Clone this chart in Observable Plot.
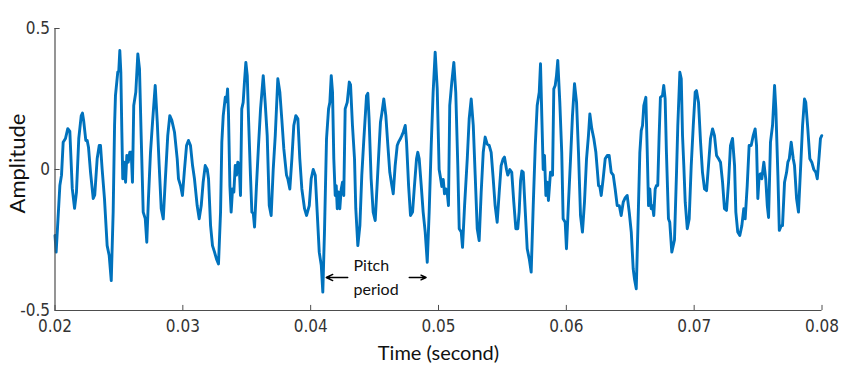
<!DOCTYPE html>
<html><head><meta charset="utf-8">
<script src="https://cdn.jsdelivr.net/npm/d3@7"></script>
<script src="https://cdn.jsdelivr.net/npm/@observablehq/plot@0.6"></script>
<style>body{margin:0;background:#fff}</style>
</head><body><div id="chart"></div>
<script>
// Waveform samples: time in milliseconds and amplitude
const timeMs = [
20.00,20.09,20.38,20.51,20.64,20.82,21.00,21.16,21.35,21.53,21.68,21.86,22.05,22.15,22.25,22.41,22.52,22.62,22.78,22.99,23.11,23.30,23.46,23.56,23.69,23.87,24.08,24.24,24.40,24.55,24.66,24.73,24.91,24.99,25.07,25.15,25.23,25.30,25.41,25.52,25.62,25.73,25.85,
25.96,26.06,26.16,26.32,26.48,26.61,26.74,26.90,27.06,27.18,27.31,27.47,27.63,27.84,28.00,28.15,28.31,28.47,28.62,28.82,28.98,29.14,29.35,29.56,29.66,29.82,29.97,30.13,30.29,30.44,30.60,30.76,30.91,31.12,31.28,31.44,31.59,31.75,31.91,32.01,
32.17,32.32,32.48,32.63,32.79,32.95,33.05,33.16,33.32,33.42,33.50,33.57,33.68,33.78,33.89,33.99,34.10,34.20,34.30,34.41,34.51,34.61,34.72,34.82,34.93,35.04,35.14,35.29,35.40,35.51,35.61,35.76,35.92,36.08,36.29,36.44,36.60,36.76,36.91,37.07,37.23,37.43,37.59,37.74,37.90,
38.11,38.21,38.37,38.53,38.68,38.84,39.00,39.15,39.31,39.52,39.68,39.89,40.04,40.20,40.36,40.51,40.67,40.83,40.95,41.08,41.24,41.40,41.50,41.61,41.71,41.81,41.92,42.00,42.08,42.18,42.28,42.39,42.49,42.59,42.70,42.86,43.02,43.12,43.27,43.43,43.53,43.69,43.85,44.00,
44.15,44.37,44.47,44.57,44.73,44.89,45.05,45.21,45.36,45.46,45.57,45.72,45.88,46.04,46.19,46.35,46.46,46.61,46.77,46.87,47.03,47.13,47.24,47.40,47.50,47.66,47.81,47.97,48.12,48.28,48.38,48.49,48.65,48.80,48.96,49.12,49.27,49.43,49.58,49.74,49.90,50.05,
50.16,50.26,50.37,50.47,50.57,50.68,50.78,50.88,51.04,51.20,51.35,51.51,51.62,51.78,51.88,52.04,52.25,52.40,52.56,52.72,52.87,53.03,53.18,53.34,53.50,53.65,53.81,53.97,54.12,54.28,54.43,54.59,54.75,54.90,55.06,55.16,55.32,55.42,55.58,55.73,55.89,56.05,56.20,
56.31,56.42,56.52,56.63,56.79,56.94,57.10,57.25,57.41,57.57,57.72,57.88,57.98,58.08,58.19,58.29,58.40,58.50,58.60,58.76,58.92,59.02,59.13,59.23,59.33,59.49,59.64,59.75,59.91,60.01,60.17,60.33,60.48,60.64,60.80,60.95,61.11,61.26,61.42,61.58,61.73,61.84,61.99,62.15,62.31,
62.42,62.52,62.62,62.73,62.88,63.04,63.20,63.35,63.51,63.67,63.82,63.98,64.14,64.29,64.45,64.61,64.76,64.92,65.08,65.23,65.33,65.47,65.59,65.75,65.86,65.96,66.06,66.22,66.33,66.43,66.53,66.64,66.74,66.84,66.95,67.05,67.15,67.26,67.36,67.52,67.62,67.73,67.83,67.99,68.09,68.25,
68.46,68.62,68.72,68.88,68.99,69.09,69.19,69.30,69.46,69.61,69.77,69.93,70.08,70.18,70.34,70.50,70.65,70.81,70.97,71.12,71.28,71.44,71.59,71.75,71.91,72.06,72.22,72.37,72.53,72.69,72.84,73.00,73.16,73.26,73.41,73.57,73.73,73.88,73.99,74.15,74.30,74.46,74.62,74.77,
74.88,74.98,75.09,75.19,75.29,75.45,75.60,75.72,75.82,75.97,76.13,76.29,76.39,76.55,76.66,76.81,76.91,77.07,77.23,77.33,77.44,77.59,77.75,77.85,78.01,78.16,78.32,78.48,78.63,78.73,78.89,79.05,79.20,79.36,79.52,79.63,79.78,79.88,79.98
];
const amplitude = [
-0.234,-0.293,-0.057,-0.02,0.097,0.11,0.145,0.135,-0.067,-0.138,-0.08,0.11,0.19,0.2,0.17,0.103,0.103,0.079,-0.01,-0.103,-0.09,0.039,0.085,0.085,0,-0.103,-0.27,-0.305,-0.394,-0.151,0.156,0.262,0.345,0.35,0.422,0.345,0.132,-0.033,0.026,-0.045,0.05,0.026,0.061,
0.061,-0.045,0.227,0.274,0.41,0.357,0.12,-0.151,-0.174,-0.258,-0.103,0.061,0.168,0.298,0.168,0.014,-0.139,-0.175,-0.045,0.12,0.191,0.174,0.132,0.038,-0.033,-0.057,-0.092,0,0.085,0.103,0.085,0.014,-0.033,-0.128,-0.175,-0.128,-0.045,0.014,0,-0.033,
-0.199,-0.27,-0.293,-0.317,-0.335,-0.151,0.097,0.191,0.256,0.24,0.286,0.2,-0.057,-0.151,-0.069,-0.08,0.014,-0.02,0.026,0.014,-0.092,0.215,0.238,0.31,0.38,0.333,0.18,-0.02,-0.151,-0.155,-0.204,-0.057,0.085,0.215,0.333,0.238,0.12,-0.128,-0.163,0,0.12,0.322,0.274,0.18,0.073,
-0.02,-0.033,-0.069,0.038,0.156,0.191,0.18,0.038,-0.069,-0.139,-0.163,-0.128,-0.033,0,-0.02,-0.151,-0.293,-0.34,-0.435,-0.222,0.109,0.215,0.238,0.333,0.274,0.038,-0.092,-0.057,-0.139,-0.08,-0.139,-0.069,-0.045,-0.092,0.215,0.238,0.31,0.3,0.156,0.038,-0.139,-0.27,-0.199,-0.02,
0.1,0.262,0.27,0.18,-0.033,-0.151,-0.181,-0.045,0.085,0.168,0.2,0.25,0.191,0.085,-0.01,-0.057,-0.086,0.014,0.085,0.097,0.11,0.12,0.132,0.156,0.097,-0.057,-0.163,-0.151,-0.057,0.038,0.061,0.038,-0.057,-0.151,-0.222,-0.329,-0.151,0.085,0.274,0.416,0.286,0,
-0.03,-0.06,-0.035,-0.086,-0.069,-0.08,-0.128,0.227,0.31,0.38,0.274,0.014,-0.21,-0.222,-0.276,-0.128,0.038,0.18,0.25,0.156,-0.02,-0.21,-0.252,-0.08,0.061,0.115,0.09,0.085,0.061,-0.033,-0.128,-0.187,-0.08,0.014,0.038,0.044,0,-0.02,0,-0.01,-0.116,-0.21,-0.21,
-0.15,-0.04,-0.005,-0.01,-0.151,-0.281,-0.317,-0.364,-0.128,0.085,0.227,0.274,0.375,0.191,0,0.05,-0.092,-0.045,-0.11,-0.01,-0.02,0.286,0.298,0.333,0.387,0.238,0.061,-0.175,-0.187,-0.281,-0.116,0.038,0.191,0.304,0.238,0.061,-0.163,-0.222,-0.116,0.038,0.12,0.197,0.145,0.11,0.061,
0.0,-0.057,-0.06,-0.092,-0.033,0.038,0.05,0.05,-0.01,-0.02,-0.069,-0.128,-0.128,-0.163,-0.116,-0.1,-0.092,-0.151,-0.222,-0.352,-0.388,-0.423,-0.222,0.061,0.138,0.156,0.227,0.256,0.061,-0.128,-0.069,-0.139,-0.128,-0.163,-0.069,-0.057,-0.057,0.12,0.256,0.262,0.298,0.25,0.061,-0.175,-0.187,-0.293,
-0.25,-0.01,0.156,0.345,0.322,0.12,0.014,-0.116,-0.21,-0.175,0.014,0.156,0.274,0.28,0.238,0.097,-0.01,-0.069,-0.075,0.014,0.11,0.144,0.12,0.05,0.038,0.026,-0.045,-0.139,-0.145,-0.045,0.085,0.11,0.014,-0.151,-0.222,-0.234,-0.199,-0.139,-0.175,-0.057,0.085,0.085,0.12,0.144,
0.085,-0.103,-0.02,-0.015,-0.033,0.026,-0.033,-0.128,-0.17,0.097,0.156,0.298,0.215,-0.02,-0.216,-0.199,-0.199,-0.045,-0.01,0.026,0.038,0.097,0.038,0.014,-0.103,-0.151,0,0.156,0.25,0.238,0.144,0.038,0.026,0,-0.01,-0.033,0.05,0.11,0.12
];

const xTicks = [0.02, 0.03, 0.04, 0.05, 0.06, 0.07, 0.08];
const xTickLabels = ["0.02", "0.03", "0.04", "0.05", "0.06", "0.07", "0.08"];
const yTicks = [-0.5, 0, 0.5];
const yTickLabels = ["-0.5", "0", "0.5"];
const xLabel = "Time (second)";
const yLabel = "Amplitude";

// Pitch-period annotation (time in ms, amplitude units)
const arrowStartMs = [42.90, 47.71];
const arrowEndMs = [41.22, 49.03];
const arrowAmp = -0.383;
const noteLines = ["Pitch", "period"];
const noteMs = 43.35;
const noteAmp = [-0.34, -0.428];

const data = timeMs.map((t, i) => ({t: t / 1000, a: amplitude[i]}));
const arrows = arrowStartMs.map((s, i) => ({x1: s / 1000, x2: arrowEndMs[i] / 1000, y: arrowAmp}));
const notes = noteLines.map((s, i) => ({text: s, x: noteMs / 1000, y: noteAmp[i]}));

const tickFont = "'Liberation Sans Narrow', 'DejaVu Sans Condensed', sans-serif";
const labelFont = "Lato, 'Open Sans', sans-serif";
const axisColor = "#4d4d4d";

const chart = Plot.plot({
  width: 860, height: 380,
  marginLeft: 54.5, marginRight: 38.5, marginTop: 28, marginBottom: 70,
  x: {domain: [0.02, 0.08], axis: null},
  y: {domain: [-0.5, 0.5], axis: null},
  style: {background: "#fff"},
  marks: [
    Plot.line(data, {x: "t", y: "a", stroke: "#0072BD", strokeWidth: 2.9, strokeLinejoin: "round", strokeLinecap: "round"}),
    Plot.ruleY([-0.5], {x1: 0.02, x2: 0.08, stroke: axisColor, strokeWidth: 1.2}),
    Plot.ruleX([0.02], {y1: -0.5, y2: 0.5, stroke: axisColor, strokeWidth: 1.2}),
    Plot.ruleX(xTicks, {x: d => d, y1: -0.5, y2: -0.482, stroke: axisColor, strokeWidth: 1}),
    Plot.ruleY(yTicks, {y: d => d, x1: 0.02, x2: 0.0204, stroke: axisColor, strokeWidth: 1}),
    Plot.text(xTicks, {x: d => d, y: -0.5, text: (d, i) => xTickLabels[i], dy: 16, fontSize: 17, fontFamily: tickFont, fill: "#333"}),
    Plot.text(yTicks, {x: 0.02, y: d => d, text: (d, i) => yTickLabels[i], textAnchor: "end", dx: -5, fontSize: 17, fontFamily: tickFont, fill: "#333"}),
    Plot.text([xLabel], {x: 0.05, y: -0.5, text: d => d, dy: 43, fontSize: 20, fontFamily: labelFont, fill: "#111"}),
    Plot.text([yLabel], {x: 0.02, y: 0, text: d => d, dx: -37, dy: -6, rotate: -90, fontSize: 22, fontFamily: labelFont, fill: "#111"}),
    Plot.arrow(arrows, {x1: "x1", x2: "x2", y1: "y", y2: "y", stroke: "#000", strokeWidth: 1.4, headLength: 8, headAngle: 50}),
    Plot.text(notes, {x: "x", y: "y", text: "text", textAnchor: "start", fontSize: 16, fontFamily: labelFont, fill: "#111"})
  ]
});
document.getElementById("chart").appendChild(chart);
</script>
</body></html>
